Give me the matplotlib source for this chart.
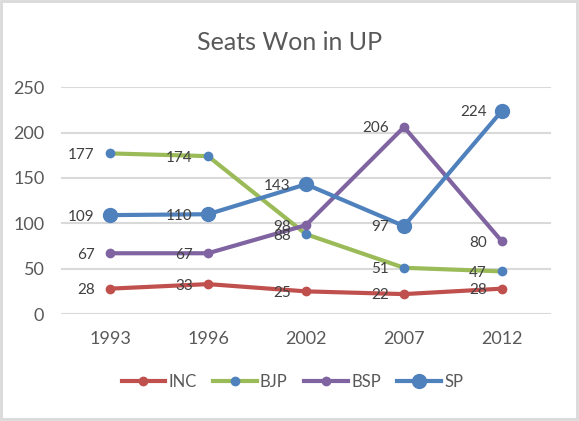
import matplotlib.pyplot as plt
from matplotlib.patches import Rectangle

years = ["1993", "1996", "2002", "2007", "2012"]
inc = [28, 33, 25, 22, 28]
bjp = [177, 174, 88, 51, 47]
bsp = [67, 67, 98, 206, 80]
sp = [109, 110, 143, 97, 224]

plt.rcParams['font.family'] = ['Lato', 'DejaVu Sans']

fig = plt.figure(figsize=(5.79, 4.21), dpi=100)
ax = fig.add_axes([0.1054, 0.254, 0.8462, 0.539])

x = list(range(len(years)))
series = [
    ("INC", inc, "#C0504D", "#C0504D", 6),
    ("BJP", bjp, "#9BBB59", "#4F81BD", 6),
    ("BSP", bsp, "#8064A2", "#8064A2", 6),
    ("SP", sp, "#4F81BD", "#4F81BD", 10),
]
for name, vals, lc, mc, ms in series:
    ax.plot(x, vals, color=lc, lw=3, marker="o", ms=ms,
            markerfacecolor=mc, markeredgecolor=mc, label=name, zorder=3)
    for xi, v in zip(x, vals):
        ax.annotate(str(v), (xi, v), xytext=(-11, -1), textcoords="offset points",
                    ha="right", va="center", fontsize=11, color="#404040", zorder=4)

ax.set_xlim(-0.5, 4.5)
ax.set_ylim(0, 250)
ax.set_yticks(range(0, 251, 50))
ax.set_xticks(x)
ax.set_xticklabels(years)
ax.grid(axis="y", color="#D9D9D9", lw=1.5)
ax.set_axisbelow(True)
for s in ax.spines.values():
    s.set_visible(False)
ax.tick_params(length=0, labelsize=13, colors="#595959", pad=12)
ax.tick_params(axis="y", pad=12)

fig.text(0.5, 0.9, "Seats Won in UP", ha="center", va="center", fontsize=18, color="#595959")

leg = fig.legend(loc="center", bbox_to_anchor=(0.505, 0.093), ncol=4, frameon=False,
                 fontsize=12, handlelength=2.6, columnspacing=1.0, handletextpad=0.2)
for t in leg.get_texts():
    t.set_color("#595959")

fig.patches.append(Rectangle((0.002, 0.004), 0.994, 0.994, transform=fig.transFigure,
                             fill=False, edgecolor="#D9D9D9", lw=2))

fig.savefig("out.png", dpi=100)
